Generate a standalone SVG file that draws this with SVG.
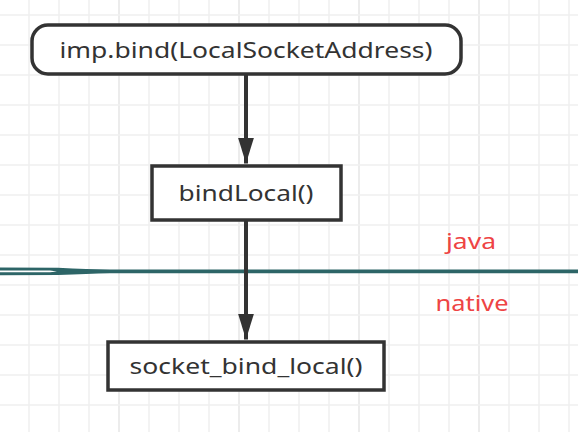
<svg xmlns="http://www.w3.org/2000/svg" width="578" height="432" viewBox="0 0 578 432">
  <defs>
    <style>
      .grid { stroke: #f0f0f0; stroke-width: 1.5; }
      .gridm { stroke: #e6e6e6; stroke-width: 1.5; }
      .node { fill: #ffffff; stroke: #333333; stroke-width: 3.5; }
      .label { font-family: "Noto Sans", "Open Sans", sans-serif; font-size: 22px; fill: #333333; text-anchor: middle; }
      .red { font-family: "Noto Sans", "Open Sans", sans-serif; font-size: 21px; fill: #ee4444; text-anchor: middle; }
      .edge { stroke: #333333; stroke-width: 4; fill: none; }
    </style>
    <marker id="arrow" markerWidth="26" markerHeight="16" refX="26" refY="8" orient="auto" markerUnits="userSpaceOnUse" viewBox="0 0 26 16">
      <path d="M0,0 L26,8 L0,16 Z" fill="#333333"/>
    </marker>
  </defs>
  <rect width="578" height="432" fill="#ffffff"/>
  <g id="grid">
    <path class="grid" d="M29,0V432M59,0V432M89,0V432M149,0V432M179,0V432M209,0V432M269,0V432M299,0V432M329,0V432M389,0V432M419,0V432M449,0V432M509,0V432M539,0V432M569,0V432"/>
    <path class="gridm" d="M119,0V432M239,0V432M359,0V432M479,0V432"/>
    <path class="grid" d="M0,15H578M0,45H578M0,75H578M0,105H578M0,135H578M0,165H578M0,195H578M0,225H578M0,255H578M0,285H578M0,315H578M0,345H578M0,375H578M0,405H578"/>
  </g>
  <g id="divider">
    <path d="M0,267.5 L58,267.8 Q88,269.2 110,269.6 L578,269.6 L578,273.2 L110,273.2 Q88,273.6 58,275 L0,275.3 Z" fill="#2d6567"/>
    <path d="M0,270.6 L50,270.6 L57,271.4 L50,272.2 L0,272.2 Z" fill="#ffffff"/>
  </g>
  <g id="connectors">
    <line class="edge" x1="246" y1="74" x2="246" y2="163.5" marker-end="url(#arrow)"/>
    <line class="edge" x1="246" y1="221" x2="246" y2="339.5" marker-end="url(#arrow)"/>
  </g>
  <g id="node-imp-bind">
    <rect class="node" x="32" y="25" width="429" height="49" rx="16" ry="16"/>
    <text class="label" x="246" y="57.5" textLength="373" lengthAdjust="spacingAndGlyphs">imp.bind(LocalSocketAddress)</text>
  </g>
  <g id="node-bindLocal">
    <rect class="node" x="152" y="166" width="189" height="54"/>
    <text class="label" x="246" y="200.5" textLength="135" lengthAdjust="spacingAndGlyphs">bindLocal()</text>
  </g>
  <g id="node-socket-bind-local">
    <rect class="node" x="108" y="342" width="276" height="48"/>
    <text class="label" x="246" y="374" textLength="233" lengthAdjust="spacingAndGlyphs">socket_bind_local()</text>
  </g>
  <g id="labels">
    <text class="red" x="471" y="249" textLength="50" lengthAdjust="spacingAndGlyphs">java</text>
    <text class="red" x="472" y="311" textLength="73" lengthAdjust="spacingAndGlyphs">native</text>
  </g>
</svg>
